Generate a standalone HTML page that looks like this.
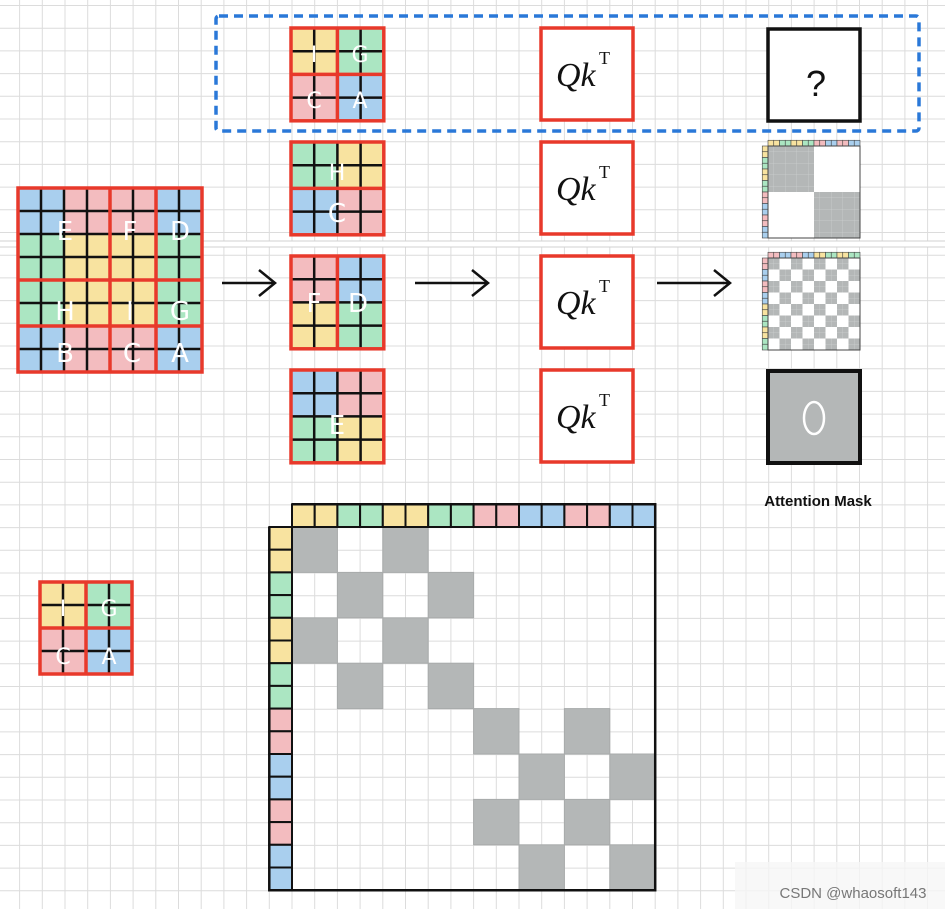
<!DOCTYPE html>
<html><head><meta charset="utf-8"><style>
html,body{margin:0;padding:0;background:#fff;width:945px;height:909px;overflow:hidden}
svg{display:block}
.hw{font-family:"DejaVu Sans","Liberation Sans",sans-serif;fill:#fff;font-size:26px;text-anchor:middle}
.qk{font-family:"Liberation Serif",serif;font-style:italic;font-size:34px;fill:#111}
</style></head><body>
<svg id="s" width="945" height="909" xmlns="http://www.w3.org/2000/svg"></svg>
<script>
const s=document.getElementById('s');let h='';
const C={Y:'#f8e3a0',G:'#abe6c2',P:'#f3bcbf',B:'#a9cfee'};
for(let x=19.6;x<945;x+=22.7)h+=`<line x1="${x}" y1="0" x2="${x}" y2="909" stroke="#dcdcdc" stroke-width="1"/>`;
for(let y=5.5;y<909;y+=22.7)h+=`<line x1="0" y1="${y}" x2="945" y2="${y}" stroke="#dcdcdc" stroke-width="1"/>`;
h+=`<rect x="0" y="241" width="945" height="6" fill="#fff"/><line x1="0" y1="241" x2="945" y2="241" stroke="#d0d0d0"/><line x1="0" y1="247" x2="945" y2="247" stroke="#d0d0d0"/>`;
function tile(x0,y0,rows,cs,reds,redh){let n=rows.length;let w=cs*n;
 rows.forEach((r,i)=>[...r].forEach((c,j)=>{h+=`<rect x="${x0+j*cs}" y="${y0+i*cs}" width="${cs}" height="${cs}" fill="${C[c]}"/>`}));
 for(let k=1;k<n;k++){h+=`<line x1="${x0+k*cs}" y1="${y0}" x2="${x0+k*cs}" y2="${y0+w}" stroke="#111" stroke-width="2.5"/><line x1="${x0}" y1="${y0+k*cs}" x2="${x0+w}" y2="${y0+k*cs}" stroke="#111" stroke-width="2.5"/>`}
 (reds||[]).forEach(k=>h+=`<line x1="${x0+k*cs}" y1="${y0}" x2="${x0+k*cs}" y2="${y0+w}" stroke="#e8392b" stroke-width="3.5"/>`);
 (redh||[]).forEach(k=>h+=`<line x1="${x0}" y1="${y0+k*cs}" x2="${x0+w}" y2="${y0+k*cs}" stroke="#e8392b" stroke-width="3.5"/>`);
 h+=`<rect x="${x0}" y="${y0}" width="${w}" height="${w}" fill="none" stroke="#e8392b" stroke-width="3.5"/>`;}
function txt(x,y,t,sz){h+=`<text x="${x}" y="${y}" class="hw" style="font-size:${sz||26}px">${t}</text>`}
tile(18,188,['BBPPPPBB','BBPPPPBB','GGYYYYGG','GGYYYYGG','GGYYYYGG','GGYYYYGG','BBPPPPBB','BBPPPPBB'],23,[4,6],[4,6]);
[['E',65,240],['F',130,240],['D',180,240],['H',65,320],['I',130,320],['G',180,320],['B',65,362],['C',132,362],['A',180,362]].forEach(a=>txt(a[1],a[2],a[0]));
tile(291,28,['YYGG','YYGG','PPBB','PPBB'],23.2,[2],[2]);txt(314,62,'I',22);txt(360,62,'G',22);txt(314,108,'C',22);txt(360,108,'A',22);
tile(291,142,['GGYY','GGYY','BBPP','BBPP'],23.2,[],[2]);txt(337,180,'H',22);txt(337,222,'C',26);
tile(291,256,['PPBB','PPBB','YYGG','YYGG'],23.2,[2],[]);txt(314,312,'F',26);txt(358,312,'D',26);
tile(291,370,['BBPP','BBPP','GGYY','GGYY'],23.2,[],[]);txt(337,434,'E',26);
tile(40,582,['YYGG','YYGG','PPBB','PPBB'],23,[2],[2]);txt(63,616,'I',22);txt(109,616,'G',22);txt(63,664,'C',22);txt(109,664,'A',22);
[28,142,256,370].forEach(y=>{h+=`<rect x="541" y="${y}" width="92" height="92" fill="#fff" stroke="#e8392b" stroke-width="3.5"/><text x="556" y="${y+58}" class="qk">Qk</text><text x="599" y="${y+36}" class="qk" style="font-size:18px;font-style:normal">T</text>`});
[[222,275],[415,488],[657,730]].forEach(a=>{h+=`<line x1="${a[0]}" y1="283" x2="${a[1]}" y2="283" stroke="#111" stroke-width="2.5"/><polyline points="${a[1]-16},270 ${a[1]},283 ${a[1]-16},296" fill="none" stroke="#111" stroke-width="2.5"/>`});
h+=`<rect x="216" y="16" width="703" height="115" fill="none" stroke="#2a78d8" stroke-width="3.5" stroke-dasharray="9,6" rx="3"/>`;
h+=`<rect x="768" y="29" width="92" height="92" fill="#fff" stroke="#111" stroke-width="3.5"/><text x="816" y="96" style="font-family:'Liberation Sans',sans-serif;font-size:36px;text-anchor:middle;fill:#111">?</text>`;
const bar='YYGGYYGGPPBBPPBB';
function mini(x,y,w,grayFn,barStr){let n=16,cs=w/n;
 h+=`<rect x="${x}" y="${y}" width="${w}" height="${w}" fill="#fff"/>`;
 for(let i=0;i<n;i++)for(let j=0;j<n;j++)if(grayFn(i,j))h+=`<rect x="${x+j*cs}" y="${y+i*cs}" width="${cs}" height="${cs}" fill="#b4b7b7"/>`;
 for(let k=0;k<n;k++){h+=`<rect x="${x+k*cs}" y="${y-cs}" width="${cs}" height="${cs}" fill="${C[barStr[k]]}" stroke="#444" stroke-width="0.6"/><rect x="${x-cs}" y="${y+k*cs}" width="${cs}" height="${cs}" fill="${C[barStr[k]]}" stroke="#444" stroke-width="0.6"/>`}
 h+=`<rect x="${x}" y="${y}" width="${w}" height="${w}" fill="none" stroke="#444" stroke-width="1"/>`;}
mini(768,146,92,(i,j)=>(i<8)==(j<8),bar);
mini(768,258,92,(i,j)=>(Math.floor(i/2)+Math.floor(j/2))%2==0,'PPBBPPBBYYGGYYGG');
h+=`<rect x="768" y="371" width="92" height="92" fill="#b4b7b7" stroke="#111" stroke-width="4"/><ellipse cx="814" cy="418" rx="10" ry="16" fill="none" stroke="#fff" stroke-width="2.5"/>`;
h+=`<text x="818" y="506" style="font-family:'Liberation Sans',sans-serif;font-weight:bold;font-size:15px;text-anchor:middle;fill:#111">Attention Mask</text>`;
const cs=22.7,X=292,Y=527;
const g=[[0,2],[1,3],[0,2],[1,3],[4,6],[5,7],[4,6],[5,7]];
g.forEach((r,i)=>r.forEach(j=>h+=`<rect x="${X+j*2*cs}" y="${Y+i*2*cs}" width="${2*cs}" height="${2*cs}" fill="#b4b7b7" stroke="#a8abab" stroke-width="1"/>`));
for(let k=0;k<16;k++){h+=`<rect x="${X+k*cs}" y="${Y-cs}" width="${cs}" height="${cs}" fill="${C[bar[k]]}" stroke="#111" stroke-width="2"/><rect x="${X-cs}" y="${Y+k*cs}" width="${cs}" height="${cs}" fill="${C[bar[k]]}" stroke="#111" stroke-width="2"/>`}
h+=`<polyline points="${X-cs},${Y} ${X-cs},${Y+16*cs} ${X+16*cs},${Y+16*cs} ${X+16*cs},${Y-cs} ${X},${Y-cs}" fill="none" stroke="#111" stroke-width="2.5"/>`;
h+=`<rect x="735" y="862" width="210" height="47" fill="#f6f6f6" opacity="0.8"/><text x="853" y="898" style="font-family:'Liberation Sans',sans-serif;font-size:15px;text-anchor:middle;fill:#777">CSDN @whaosoft143</text>`;
s.innerHTML=h;
</script>
</body></html>
